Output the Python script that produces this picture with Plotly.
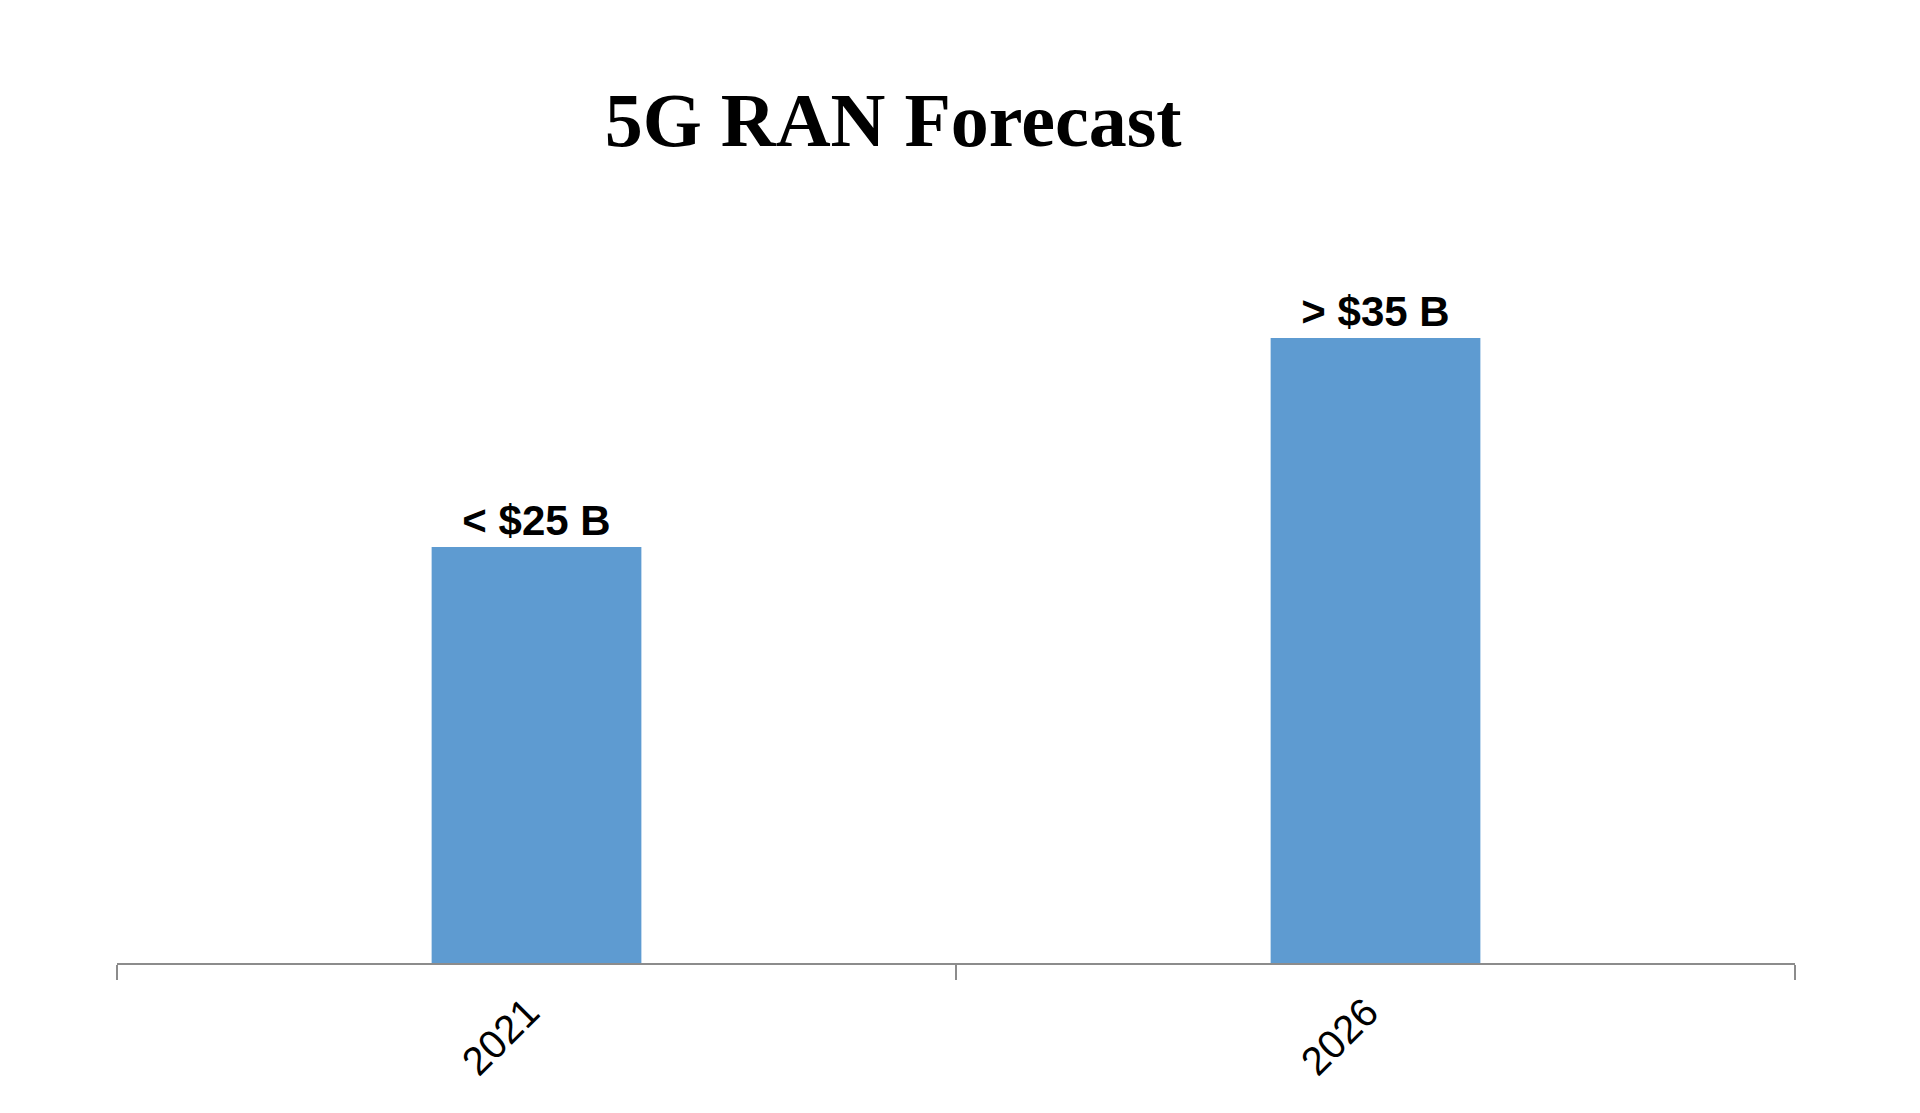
import plotly.graph_objects as go

# chart data
years = ["2021", "2026"]
values = [23.3, 35]
labels = ["< $25 B", "> $35 B"]

fig = go.Figure(go.Bar(
    x=years,
    y=values,
    text=labels,
    textposition="outside",
    cliponaxis=False,
    textfont=dict(family="Liberation Sans, Arial", size=42, color="black", weight="bold"),
    marker=dict(color="#5e9bd1", line=dict(width=0)),
    hoverinfo="skip",
))

fig.update_layout(
    width=1920, height=1113,
    paper_bgcolor="white", plot_bgcolor="white",
    margin=dict(l=109, r=133, t=239, b=158),
    bargap=0.75,
    showlegend=False,
    title=dict(
        text="<b>5G RAN Forecast</b>",
        x=0.461, xanchor="center",
        y=0.90, yanchor="middle",
        font=dict(family="Liberation Serif, Times New Roman", size=76, color="black"),
    ),
)

fig.update_xaxes(
    showline=True, linecolor="#8c8c8c", linewidth=1.5,
    ticks="outside", ticklen=15, tickcolor="#8c8c8c", tickwidth=1.5,
    tickson="boundaries",
    tickangle=-45,
    ticklabelstandoff=8,
    ticklabelshift=-9,
    tickfont=dict(family="Liberation Sans, Arial", size=40, color="black"),
    showgrid=False,
)
fig.update_yaxes(visible=False, range=[0, 40.1])

fig.write_html("out.html")
